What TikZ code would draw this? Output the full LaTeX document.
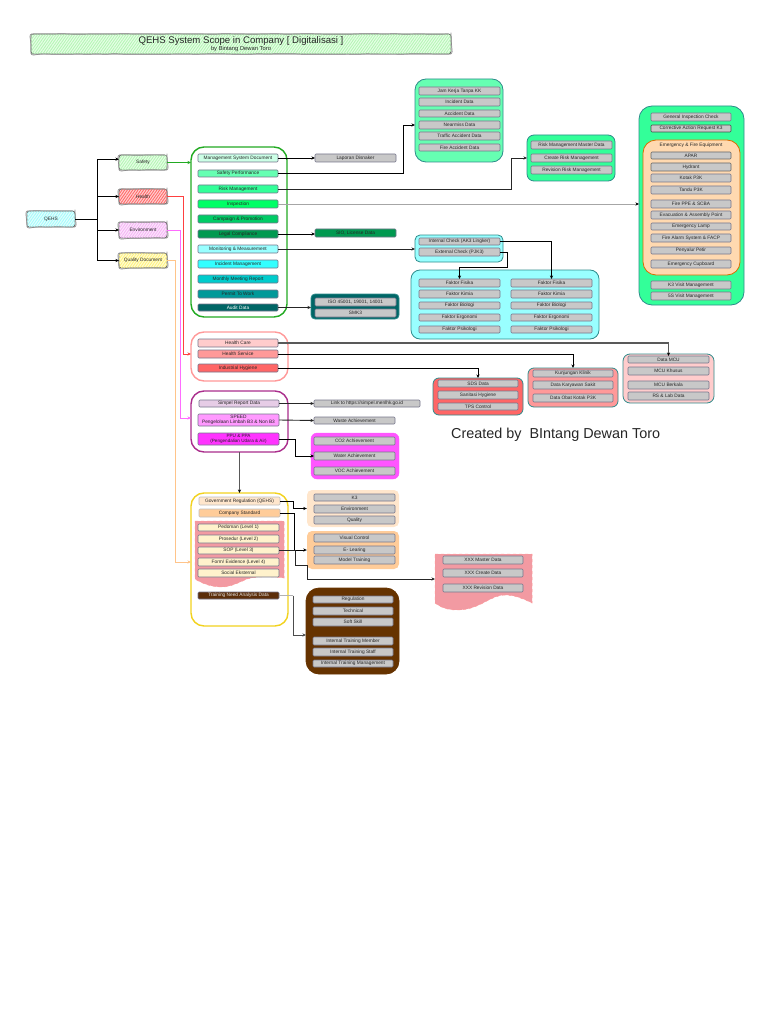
\documentclass[tikz,border=0pt]{standalone}
\usepackage{fontspec}
\setmainfont{Liberation Sans}
\usetikzlibrary{arrows.meta,patterns.meta,decorations.pathmorphing}
\definecolor{ga}{HTML}{CCFFE6}\definecolor{gb}{HTML}{66FFB2}\definecolor{gc}{HTML}{33FF99}
\definecolor{gd}{HTML}{00FF66}\definecolor{ge}{HTML}{00CC66}\definecolor{gf}{HTML}{009950}
\definecolor{ca}{HTML}{99FFFF}\definecolor{cb}{HTML}{33FFFF}\definecolor{cc}{HTML}{00CCCC}
\definecolor{cd}{HTML}{009999}\definecolor{ce}{HTML}{006666}
\definecolor{ra}{HTML}{FFCCCC}\definecolor{rb}{HTML}{FF9999}\definecolor{rc}{HTML}{FF6666}
\definecolor{ma}{HTML}{E6CCE6}\definecolor{mb}{HTML}{FF99FF}\definecolor{mc}{HTML}{FF33FF}\definecolor{md}{HTML}{FF55FF}
\definecolor{oa}{HTML}{FFE6CC}\definecolor{ob}{HTML}{FFCC99}\definecolor{oc}{HTML}{FFD9B0}
\definecolor{ya}{HTML}{FFF2CC}\definecolor{br}{HTML}{663300}\definecolor{brd}{HTML}{5C2E0A}
\definecolor{gy}{HTML}{C8C8C8}\definecolor{edgeg}{HTML}{76768C}\definecolor{tl}{HTML}{2E8B8B}
\definecolor{pk}{HTML}{F29AA2}
\definecolor{hgreen}{HTML}{B4F7B4}\definecolor{hcyan}{HTML}{A6FBFB}\definecolor{hred}{HTML}{FF6A6A}
\definecolor{hmag}{HTML}{F6B4F6}\definecolor{hyel}{HTML}{FFF47E}
\definecolor{fenvc}{HTML}{AA2E8C}\definecolor{fqualc}{HTML}{F2D21E}\definecolor{fgrn}{HTML}{22AA22}
\tikzset{
 itembox/.style={rectangle,rounded corners=1pt,fill=gy,draw=edgeg,line width=.6pt,inner sep=0pt,outer sep=0pt,align=center,text=black!85,font=\fontsize{4.8}{5.2}\selectfont},
 panel/.style={rectangle,rounded corners=11pt,draw=tl,line width=.8pt,inner sep=0pt,outer sep=0pt},
 frame/.style={rectangle,rounded corners=13pt,fill=white,line width=1.4pt,inner sep=0pt,outer sep=0pt},
 sketch/.style={rectangle,rounded corners=2.5pt,inner sep=0pt,outer sep=0pt,draw=black!65,line width=.8pt,align=center,
   font=\fontsize{4.8}{6}\selectfont,text=black!85,fill=#1!30,
   postaction={pattern={Lines[angle=55,distance=2.2pt,line width=.9pt]},pattern color=#1},
   postaction={draw=black!45,line width=.7pt,decorate,decoration={random steps,segment length=9pt,amplitude=.4pt}}},
 con/.style={draw=black,line width=.9pt,-{Stealth[length=3.6pt,width=3.2pt]},rounded corners=0pt},
 gcon/.style={draw=black!65,line width=1.3pt,-{Stealth[length=3.6pt,width=3.2pt,color=black]}},
 plain/.style={draw=black,line width=.9pt},
}
\newcommand{\mybox}[7]{\node[#6,minimum width={(#4-#2)*1pt},minimum height={(#5-#3)*1pt}] (#1) at ({(#2+#4)/2},{(#3+#5)/2}) {#7};}
\begin{document}
\begin{tikzpicture}[x=1pt,y=-1pt]
\useasboundingbox (0,0) rectangle (768,1024);
% title
\mybox{title}{31}{34}{451}{54}{sketch=hgreen}{}
\node[font=\fontsize{9.6}{11}\selectfont,text=black!85,inner sep=0pt] (titletext) at (241,41) {QEHS System Scope in Company [ Digitalisasi ]};
\node[font=\fontsize{5.8}{6}\selectfont,text=black!85,inner sep=0pt] (subtitle) at (241,49) {by Bintang Dewan Toro};
% left column
\mybox{qehs}{27}{211}{75}{227}{sketch=hcyan}{QEHS}
\mybox{safety}{119}{155}{167}{170}{sketch=hgreen}{Safety}
\mybox{health}{119}{189}{167}{204}{sketch=hred}{Health}
\mybox{envi}{119}{222}{167}{238}{sketch=hmag}{Environment}
\mybox{quality}{119}{253}{167}{268}{sketch=hyel}{Quality Document}
% frames
\mybox{fsafety}{191}{147}{287}{317}{frame,draw=fgrn}{}
\mybox{fhealth}{191}{332}{288}{381}{frame,draw=rb}{}
\mybox{fenv}{191}{391}{288}{452}{frame,draw=fenvc}{}
\mybox{fqual}{191}{493}{288}{626}{frame,draw=fqualc}{}
% safety items
\mybox{msd}{198}{154}{278}{162}{itembox,fill=ga}{Management System Document}
\mybox{sperf}{198}{170}{278}{177}{itembox,fill=gb}{Safety Performance}
\mybox{risk}{198}{185}{278}{193}{itembox,fill=gc}{Risk Management}
\mybox{insp}{198}{200}{278}{208}{itembox,fill=gd}{Inspection}
\mybox{camp}{198}{215}{278}{223}{itembox,fill=ge}{Campaign \& Promotion}
\mybox{legal}{198}{230}{278}{238}{itembox,fill=gf}{Legal Compliance}
\mybox{moni}{198}{245}{278}{253}{itembox,fill=ca}{Monitoring \& Measurement}
\mybox{inci}{198}{260}{278}{268}{itembox,fill=cb}{Incident Management}
\mybox{meet}{198}{275}{278}{283}{itembox,fill=cc}{Monthly Meeting Report}
\mybox{permit}{198}{290}{278}{298}{itembox,fill=cd}{Permit To Work}
\mybox{audit}{198}{304}{278}{311}{itembox,fill=ce,text=white}{Audit Data}
\mybox{laporan}{315}{154}{396}{162}{itembox}{Laporan Disnaker}
\mybox{sio}{315}{229}{396}{237}{itembox,fill=gf}{SIO, License Data}
\mybox{piso}{311}{294}{399}{319}{panel,rounded corners=4pt,fill=ce}{}
\mybox{iso}{315}{298}{396}{306}{itembox}{ISO 45001, 19001, 14001}
\mybox{smk}{315}{309}{396}{317}{itembox}{SMK3}
% safety data
\mybox{psd}{415}{79}{503}{162}{panel,fill=gb}{}
\mybox{sda}{419}{87}{500}{95}{itembox}{Jam Kerja Tanpa KK}
\mybox{sdb}{419}{98}{500}{106}{itembox}{Incident Data}
\mybox{sdc}{419}{110}{500}{117}{itembox}{Accident Data}
\mybox{sdd}{419}{121}{500}{129}{itembox}{Nearmiss Data}
\mybox{sde}{419}{132}{500}{140}{itembox}{Traffic Accident Data}
\mybox{sdf}{419}{144}{500}{151}{itembox}{Fire Accident Data}
% risk
\mybox{prisk}{527}{135}{615}{181}{panel,rounded corners=7pt,fill=gc}{}
\mybox{ria}{531}{141}{612}{149}{itembox}{Risk Management Master Data}
\mybox{rib}{531}{154}{612}{162}{itembox}{Create Risk Management}
\mybox{ric}{531}{166}{612}{174}{itembox}{Revision Risk Management}
% inspection
\mybox{pinsp}{639}{106}{744}{305}{panel,rounded corners=13pt,fill=gc}{}
\mybox{ina}{651}{113}{731}{121}{itembox}{General Inspection Check}
\mybox{inb}{651}{125}{731}{132}{itembox,draw=black!70}{Corrective Action Request K3}
\mybox{pemer}{643}{140}{740}{275}{panel,rounded corners=13pt,fill=oc,draw=orange!85!black}{}
\node[font=\fontsize{4.8}{6}\selectfont,text=black!85,inner sep=0pt] (emhead) at (691,145) {Emergency \& Fire Equipment};
\mybox{ema}{651}{152}{731}{159}{itembox,draw=black!60}{APAR}
\mybox{emb}{651}{163}{731}{171}{itembox,draw=black!60}{Hydrant}
\mybox{emc}{651}{174}{731}{182}{itembox}{Kotak P3K}
\mybox{emd}{651}{186}{731}{194}{itembox}{Tandu P3K}
\mybox{eme}{651}{200}{731}{208}{itembox}{Fire PPE \& SCBA}
\mybox{emf}{651}{211}{731}{219}{itembox}{Evacuation \& Assembly Point}
\mybox{emg}{651}{223}{731}{230}{itembox}{Emergency Lamp}
\mybox{emh}{651}{234}{731}{242}{itembox}{Fire Alarm System \& FACP}
\mybox{emi}{651}{247}{731}{254}{itembox}{Penyalur Petir}
\mybox{emj}{651}{260}{731}{268}{itembox}{Emergency Cupboard}
\mybox{inc}{651}{281}{731}{289}{itembox}{K3 Visit Management}
\mybox{ind}{651}{292}{731}{300}{itembox}{5S Visit Management}
% monitoring
\mybox{pmon}{415}{235}{503}{262}{panel,rounded corners=5pt,fill=ca}{}
\mybox{ick}{419}{238}{500}{245}{itembox}{Internal Check (AK3 Lingker)}
\mybox{eck}{419}{248}{500}{256}{itembox}{External Check (PJK3)}
\mybox{pfak}{411}{270}{599}{339}{panel,rounded corners=9pt,fill=ca}{}
\mybox{fla}{419}{279}{500}{287}{itembox}{Faktor Fisika}
\mybox{flb}{419}{290}{500}{298}{itembox}{Faktor Kimia}
\mybox{flc}{419}{302}{500}{309}{itembox}{Faktor Biologi}
\mybox{fld}{419}{314}{500}{321}{itembox}{Faktor Ergonomi}
\mybox{fle}{419}{326}{500}{333}{itembox}{Faktor Psikologi}
\mybox{fra}{511}{279}{592}{287}{itembox}{Faktor Fisika}
\mybox{frb}{511}{290}{592}{298}{itembox}{Faktor Kimia}
\mybox{frc}{511}{302}{592}{309}{itembox}{Faktor Biologi}
\mybox{frd}{511}{314}{592}{321}{itembox}{Faktor Ergonomi}
\mybox{fre}{511}{326}{592}{333}{itembox}{Faktor Psikologi}
% health
\mybox{hcare}{198}{339}{278}{347}{itembox,fill=ra}{Health Care}
\mybox{hserv}{198}{350}{278}{358}{itembox,fill=rb}{Health Service}
\mybox{hind}{198}{364}{278}{372}{itembox,fill=rc}{Industrial Hygiene}
\mybox{psds}{433}{378}{523}{415}{panel,rounded corners=6pt,fill=rc}{}
\mybox{sds}{438}{380}{518}{387}{itembox}{SDS Data}
\mybox{san}{438}{391}{518}{399}{itembox}{Sanitasi Hygiene}
\mybox{tps}{438}{403}{518}{410}{itembox}{TPS Control}
\mybox{pkl}{528}{368}{618}{407}{panel,rounded corners=6pt,fill=rb}{}
\mybox{kla}{533}{370}{613}{377}{itembox}{Kunjungan Klinik}
\mybox{klb}{533}{381}{613}{389}{itembox}{Data Karyawan Sakit}
\mybox{klc}{533}{394}{613}{402}{itembox}{Data Obat Kotak P3K}
\mybox{pmcu}{623}{354}{714}{403}{panel,rounded corners=7pt,fill=ra}{}
\mybox{mca}{628}{356}{709}{363}{itembox}{Data MCU}
\mybox{mcb}{628}{367}{709}{375}{itembox}{MCU Khusus}
\mybox{mcc}{628}{381}{709}{389}{itembox}{MCU Berkala}
\mybox{mcd}{628}{392}{709}{400}{itembox}{RS \& Lab Data}
\node[font=\fontsize{14.4}{16}\selectfont,text=black!85,inner sep=0pt,anchor=west] (created) at (451,435) {Created by\ \ BIntang Dewan Toro};
% environment
\mybox{simp}{199}{400}{279}{407}{itembox,fill=ma}{Simpel Report Data}
\mybox{speed}{198}{414}{279}{426}{itembox,fill=mb,font=\fontsize{4.8}{5.4}\selectfont}{SPEED\\Pengelolaan Limbah B3 \& Non B3}
\mybox{ppu}{198}{433}{279}{445}{itembox,fill=mc,font=\fontsize{4.6}{5.4}\selectfont}{PPU \& PPA\\(Pengendalian Udara \& Air)}
\mybox{link}{314}{400}{420}{407}{itembox}{Link to https://simpel.menlhk.go.id}
\mybox{waste}{314}{417}{395}{424}{itembox}{Waste Achievement}
\mybox{pach}{311}{433}{399}{479}{rectangle,rounded corners=6pt,fill=md,draw=md,inner sep=0pt}{}
\mybox{coa}{314}{437}{395}{445}{itembox}{CO2 Achievement}
\mybox{wat}{314}{452}{395}{460}{itembox}{Water Achievement}
\mybox{voc}{314}{467}{395}{475}{itembox}{VOC Achievement}
% quality
\path[fill=pk,draw=rb,dashed,line width=.5pt] (195,521) -- (284,521) -- (284,578) .. controls (270,576) and (258,576) .. (247,579) .. controls (238,583) and (230,587) .. (222,587) .. controls (212,587) and (203,584) .. (195,579) -- cycle;
\mybox{gov}{199}{497}{280}{505}{itembox,fill=oa,draw=black!25}{Government Regulation (QEHS)}
\mybox{comp}{199}{509}{280}{517}{itembox,fill=ob,draw=black!25}{Company Standard}
\mybox{ped}{198}{524}{279}{531}{itembox,fill=ya}{Pedoman (Level 1)}
\mybox{pros}{198}{535}{279}{543}{itembox,fill=ya}{Prosedur (Level 2)}
\mybox{sop}{198}{547}{279}{554}{itembox,fill=ya}{SOP (Level 3)}
\mybox{form}{198}{558}{279}{566}{itembox,fill=ya}{Form/ Evidence (Level 4)}
\mybox{soc}{198}{569}{279}{577}{itembox,fill=ya}{Social Eksternal}
\mybox{tna}{198}{592}{279}{599}{itembox,fill=brd,text=white!90!black}{Training Need Analysis Data}
\mybox{pk}{307}{490}{399}{527}{rectangle,rounded corners=5pt,fill=oa,inner sep=0pt}{}
\mybox{qka}{314}{494}{395}{501}{itembox}{K3}
\mybox{qkb}{314}{505}{395}{513}{itembox}{Environment}
\mybox{qkc}{314}{516}{395}{524}{itembox}{Quality}
\mybox{pv}{307}{531}{399}{569}{rectangle,rounded corners=5pt,fill=ob,inner sep=0pt}{}
\mybox{vca}{314}{534}{395}{542}{itembox}{Visual Control}
\mybox{vcb}{314}{546}{395}{554}{itembox}{E- Learing}
\mybox{vcc}{314}{556}{395}{564}{itembox}{Model Training}
\mybox{pbr}{306}{588}{399}{674}{panel,rounded corners=13pt,fill=br,draw=br}{}
\mybox{tra}{313}{596}{393}{603}{itembox}{Regulation}
\mybox{trb}{313}{607}{393}{615}{itembox}{Technical}
\mybox{trc}{313}{618}{393}{626}{itembox}{Soft Skill}
\mybox{trd}{313}{637}{393}{645}{itembox}{Internal Training Member}
\mybox{tre}{313}{648}{393}{656}{itembox}{Internal Training Staff}
\mybox{trf}{313}{660}{393}{667}{itembox}{Internal Training Management}
\path[fill=pk,draw=rb,dashed,line width=.5pt] (435,554) -- (532,554) -- (532,603) .. controls (520,597) and (512,595) .. (505,595) .. controls (490,595) and (480,610) .. (457,610) .. controls (447,610) and (440,607) .. (435,603) -- cycle;
\coordinate (xxxin) at (435,579);
\mybox{xa}{443}{556}{523}{564}{itembox}{XXX Master Data}
\mybox{xb}{443}{569}{523}{577}{itembox}{XXX Create Data}
\mybox{xc}{443}{584}{523}{592}{itembox}{XXX Revision Data}
% connectors: left tree
\draw[plain] (qehs.east) -- ++(22,0) coordinate (bus);
\coordinate (safetyin) at ([yshift=3.3pt]safety.west);
\draw[con] (bus) |- (safetyin);
\draw[con] (bus) |- (health.west);
\draw[con] (bus) |- (envi.west);
\draw[con] (bus) |- (quality.west);
\draw[con,draw=fgrn] (safety.east) -- (safety.east -| fsafety.west);
\coordinate (hin) at (hserv.west -| fhealth.west);
\draw[con,draw=red!75!white] (health.east) -- ++(16,0) |- (hin);
\coordinate (ein) at (speed.west -| fenv.west);
\draw[con,draw=mb!70!magenta] (envi.east) -- ++(13,0) |- ([yshift=2pt]ein);
\coordinate (qin) at (form.west -| fqual.west);
\draw[con,draw=ob!90!orange] (quality.east) -- ++(8,0) |- (qin);
% safety connectors
\draw[con] (msd.east) -- (laporan.west);
\coordinate (psdin) at (psd.west |- sdd.east);
\draw[con] (sperf.east) -- ++(125,0) |- (psdin);
\draw[con,draw=black!85] (risk.east) -- ++(233.7,0) |- (prisk.west);
\draw[con,draw=black!35,-{Stealth[length=3.6pt,width=3.2pt,color=black]}] (insp.east) -- (insp.east -| pinsp.west);
\draw[con] (legal.east) -- (legal.east -| sio.west);
\draw[con,draw=black!85] (moni.east) -- (moni.east -| pmon.west);
\draw[con,draw=black!85] (audit.east) -- (audit.east -| piso.west);
\draw[con] (ick.east) -- (ick.east -| fra.north) -- (fra.north);
\coordinate (eckturn) at (459.5,267.7);
\draw[con] (eck.east) -- ++(7.7,0) |- (eckturn) -- (fla.north);
% health connectors
\draw[gcon] (hcare.east) -- (mca.north |- hcare.east) -- (mca.north);
\draw[con] (hserv.east) -- (kla.north |- hserv.east) -- (pkl.north);
\draw[con] (hind.east) -- (psds.north |- hind.east) -- (psds.north);
% env connectors
\draw[con,draw=black!85] (simp.east) -- (link.west);
\draw[con,draw=black!85] (speed.east) -- (waste.west);
\draw[con] (ppu.east) -- ++(16,0) |- (wat.west);
\draw[gcon] (fenv.south) -- (fqual.north);
% quality connectors
\draw[con] (gov.east) -- ++(13,0) |- (pk.west);
\draw[con] (comp.east) -- ++(14,0) |- (pv.west |- vcb.west);
\draw[con,draw=black!85] (sop.east) -- ++(16,0) -- ++(0,15) -- ++(12.7,0) |- (xxxin);
\coordinate (brin) at (306,635);
\draw[draw=black!30,line width=.6pt] (tna.east) -- ++(14,0) coordinate (tnaturn);
\draw[con,draw=black!70,line width=.6pt] (tnaturn) |- (brin);
\end{tikzpicture}
\end{document}
